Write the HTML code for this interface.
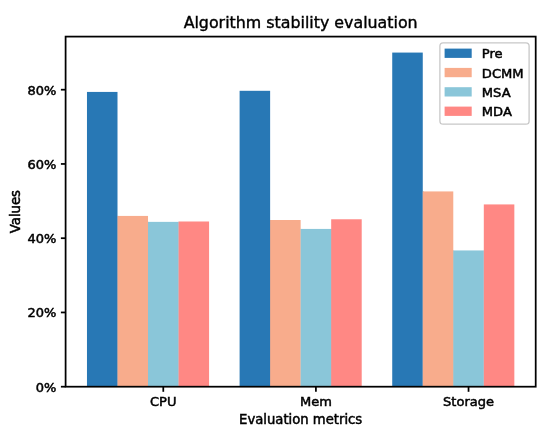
<!DOCTYPE html><html><head><meta charset="utf-8"><style>html,body{margin:0;padding:0;background:#fff;}svg{display:block}text{font-family:"DejaVu Sans","Liberation Sans",sans-serif;fill:#000;stroke:#000;stroke-width:0.5px}</style></head><body>
<svg width="550" height="435" viewBox="0 0 550 435">
<rect x="0" y="0" width="550" height="435" fill="#fff"/>
<rect x="86.97" y="91.93" width="30.53" height="294.77" fill="#2878b5"/>
<rect x="117.39" y="215.92" width="0.9" height="170.78" fill="#2878b5"/>
<rect x="239.60" y="90.81" width="30.53" height="295.89" fill="#2878b5"/>
<rect x="270.02" y="220.01" width="0.9" height="166.69" fill="#2878b5"/>
<rect x="392.23" y="52.57" width="30.53" height="334.12" fill="#2878b5"/>
<rect x="422.65" y="191.42" width="0.9" height="195.28" fill="#2878b5"/>
<rect x="117.49" y="215.92" width="30.53" height="170.78" fill="#f8ac8c"/>
<rect x="147.92" y="221.87" width="0.9" height="164.83" fill="#f8ac8c"/>
<rect x="270.12" y="220.01" width="30.53" height="166.69" fill="#f8ac8c"/>
<rect x="300.55" y="228.92" width="0.9" height="157.78" fill="#f8ac8c"/>
<rect x="422.75" y="191.42" width="30.53" height="195.28" fill="#f8ac8c"/>
<rect x="453.18" y="250.45" width="0.9" height="136.25" fill="#f8ac8c"/>
<rect x="148.02" y="221.87" width="30.53" height="164.83" fill="#8ac6d9"/>
<rect x="178.45" y="221.87" width="0.9" height="164.83" fill="#8ac6d9"/>
<rect x="300.65" y="228.92" width="30.53" height="157.78" fill="#8ac6d9"/>
<rect x="331.08" y="228.92" width="0.9" height="157.78" fill="#8ac6d9"/>
<rect x="453.28" y="250.45" width="30.53" height="136.25" fill="#8ac6d9"/>
<rect x="483.71" y="250.45" width="0.9" height="136.25" fill="#8ac6d9"/>
<rect x="178.55" y="221.49" width="30.53" height="165.21" fill="#ff8884"/>
<rect x="331.18" y="219.27" width="30.53" height="167.43" fill="#ff8884"/>
<rect x="483.81" y="204.42" width="30.53" height="182.28" fill="#ff8884"/>
<rect x="65.60" y="36.60" width="470.10" height="350.10" fill="none" stroke="#000" stroke-width="1.75" stroke-linejoin="miter"/>
<line x1="60.90" y1="386.70" x2="65.60" y2="386.70" stroke="#000" stroke-width="1.75"/>
<text x="56.3" y="391.50" font-size="13.0" text-anchor="end">0%</text>
<line x1="60.90" y1="312.45" x2="65.60" y2="312.45" stroke="#000" stroke-width="1.75"/>
<text x="56.3" y="317.25" font-size="13.0" text-anchor="end">20%</text>
<line x1="60.90" y1="238.20" x2="65.60" y2="238.20" stroke="#000" stroke-width="1.75"/>
<text x="56.3" y="243.00" font-size="13.0" text-anchor="end">40%</text>
<line x1="60.90" y1="163.95" x2="65.60" y2="163.95" stroke="#000" stroke-width="1.75"/>
<text x="56.3" y="168.75" font-size="13.0" text-anchor="end">60%</text>
<line x1="60.90" y1="89.70" x2="65.60" y2="89.70" stroke="#000" stroke-width="1.75"/>
<text x="56.3" y="94.50" font-size="13.0" text-anchor="end">80%</text>
<line x1="163.28" y1="386.70" x2="163.28" y2="391.80" stroke="#000" stroke-width="1.75"/>
<text x="163.28" y="405.6" font-size="13.0" text-anchor="middle">CPU</text>
<line x1="315.91" y1="386.70" x2="315.91" y2="391.80" stroke="#000" stroke-width="1.75"/>
<text x="315.91" y="405.6" font-size="13.0" text-anchor="middle">Mem</text>
<line x1="468.54" y1="386.70" x2="468.54" y2="391.80" stroke="#000" stroke-width="1.75"/>
<text x="468.54" y="405.6" font-size="13.0" text-anchor="middle">Storage</text>
<text x="300.65" y="424.0" font-size="13.2" text-anchor="middle">Evaluation metrics</text>
<text transform="translate(20.3 211.65) rotate(-90)" font-size="13.2" text-anchor="middle">Values</text>
<text x="300.65" y="28.35" font-size="15.85" text-anchor="middle" style="stroke-width:0.4px">Algorithm stability evaluation</text>
<rect x="439.9" y="42.9" width="89.2" height="81.2" rx="3.2" ry="3.2" fill="#fff" fill-opacity="0.8" stroke="#c8c8c8" stroke-width="1.3"/>
<rect x="444.6" y="48.60" width="27.1" height="9.3" fill="#2878b5"/>
<text x="481.8" y="58.20" font-size="13.1">Pre</text>
<rect x="444.6" y="67.90" width="27.1" height="9.3" fill="#f8ac8c"/>
<text x="481.8" y="77.50" font-size="13.1">DCMM</text>
<rect x="444.6" y="87.20" width="27.1" height="9.3" fill="#8ac6d9"/>
<text x="481.8" y="96.80" font-size="13.1">MSA</text>
<rect x="444.6" y="106.60" width="27.1" height="9.3" fill="#ff8884"/>
<text x="481.8" y="116.20" font-size="13.1">MDA</text>
</svg></body></html>
